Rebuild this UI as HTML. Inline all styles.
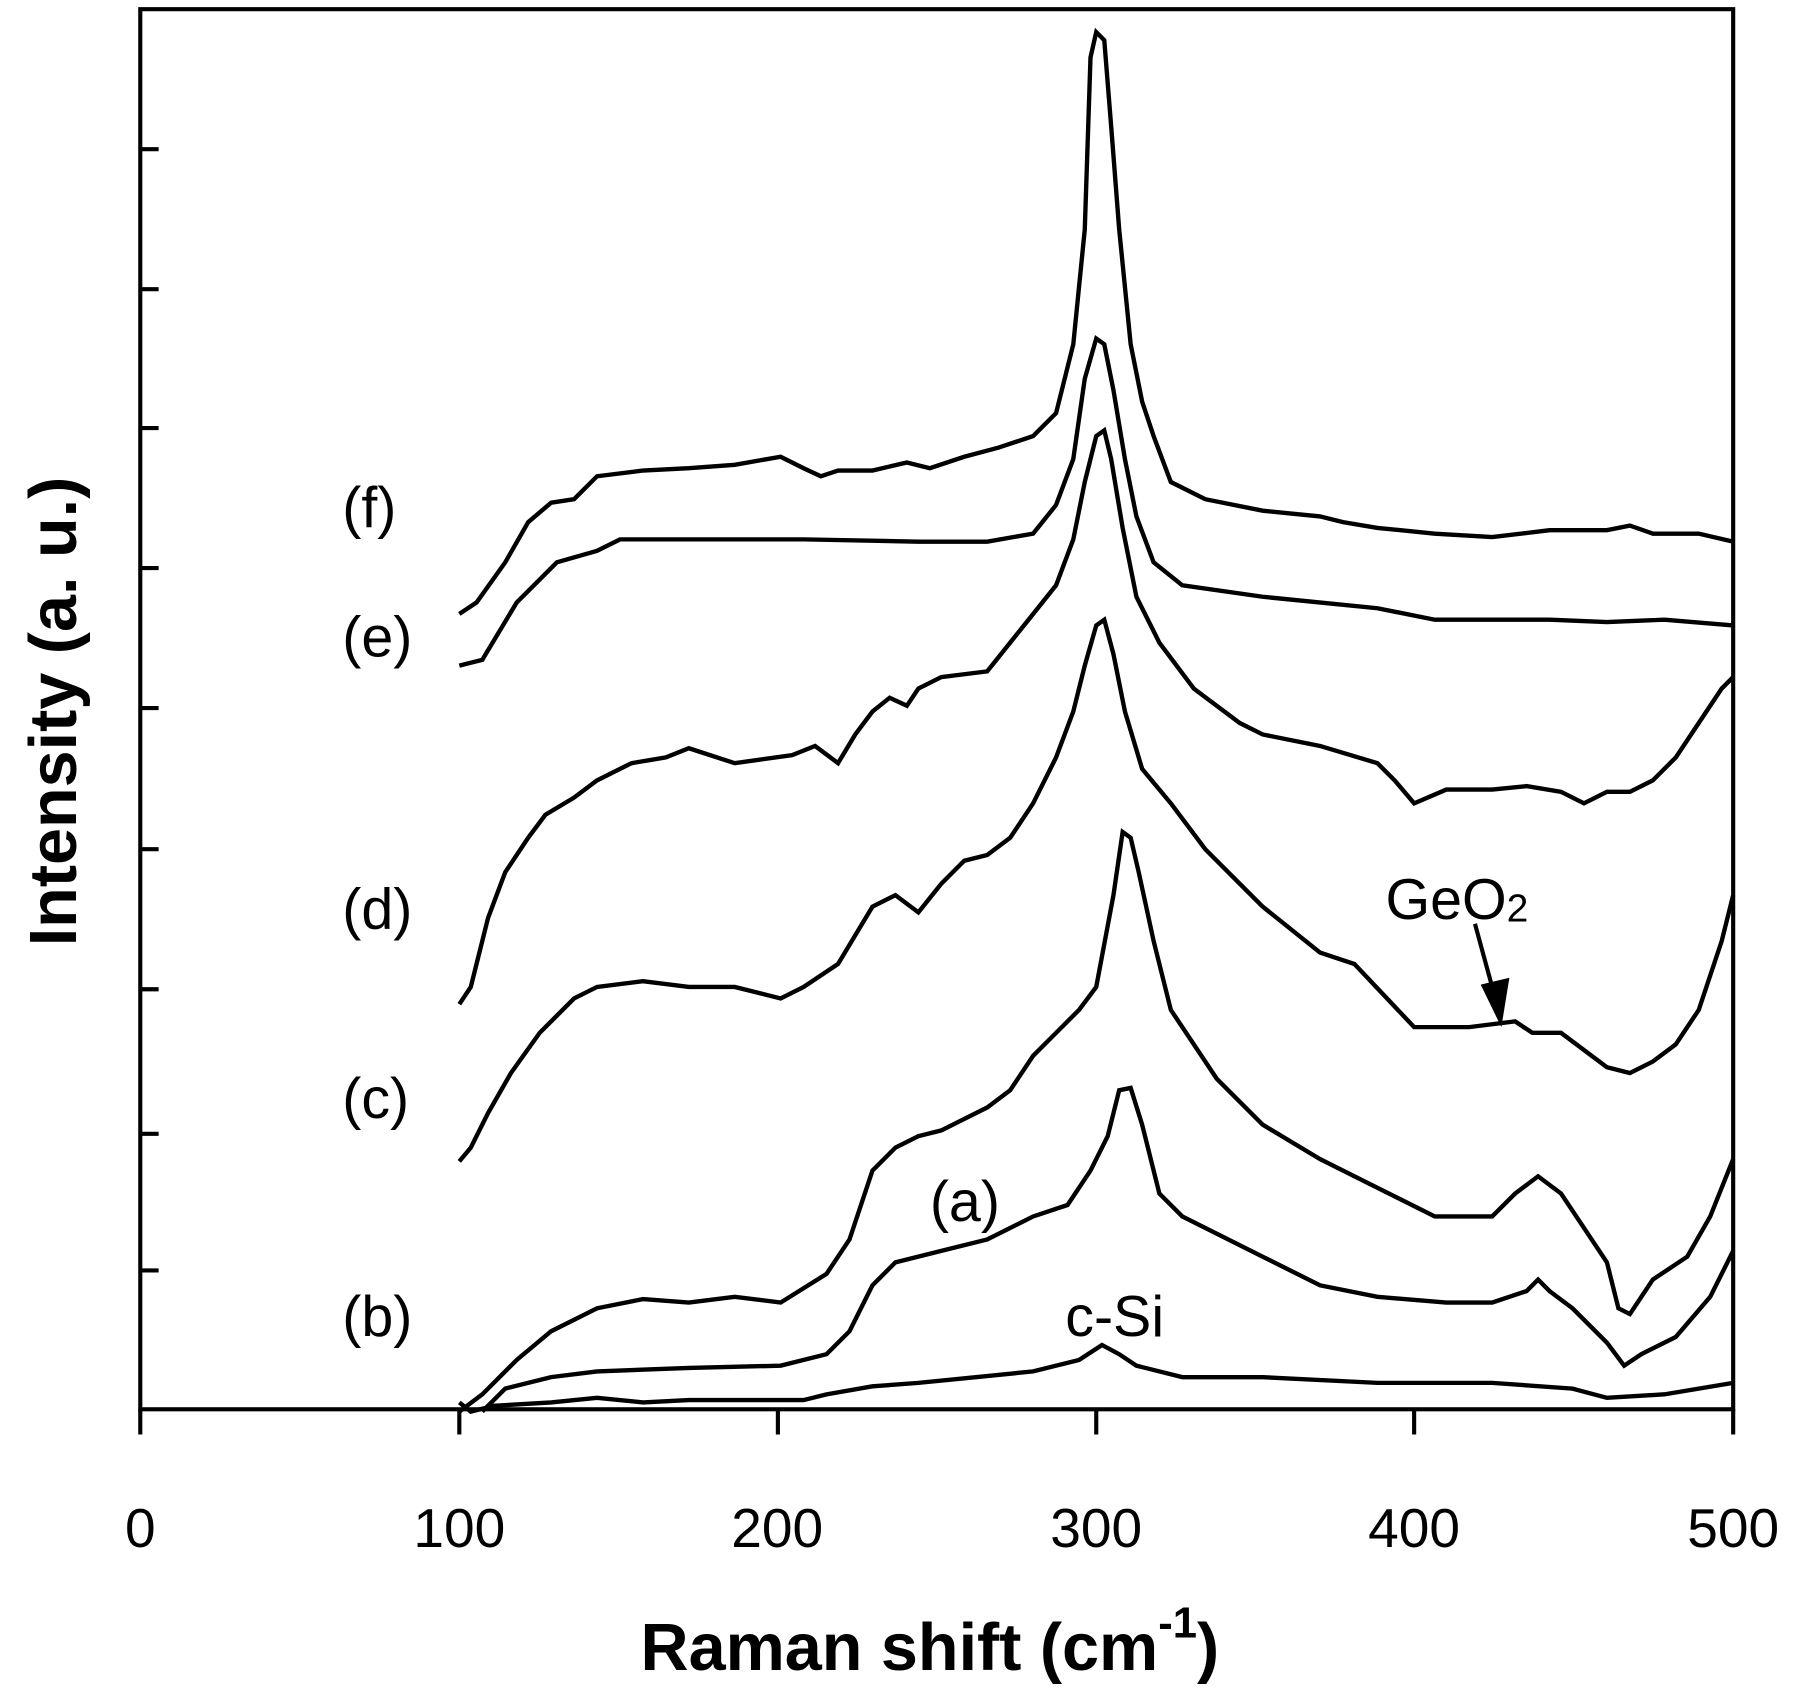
<!DOCTYPE html>
<html><head><style>html,body{margin:0;padding:0;background:#fff}svg{display:block}</style></head>
<body>
<svg width="1800" height="1687" viewBox="0 0 1568 1470" xmlns="http://www.w3.org/2000/svg">
<g fill="none" stroke="#000" stroke-width="3.6" stroke-linejoin="miter">
<rect x="122" y="8" width="1388" height="1220"/>
<path d="M122 130h16M122 252h16M122 373h16M122 495h16M122 617h16M122 740h16M122 862h16M122 988h16M122 1107h16"/>
<path d="M122 1228v22M400 1228v22M677.6 1228v22M955 1228v22M1232 1228v22M1510 1228v22"/>
<line x1="1285" y1="805" x2="1300" y2="860"/>
</g>
<g id="curves" fill="none" stroke="#000" stroke-width="3.8" stroke-linejoin="miter">
<polyline points="400,535 415,525 440,490 460,455 480,438 500,435 520,415 560,410 600,408 640,405 680,398 700,408 715,415 730,410 760,410 790,403 810,408 840,398 870,390 900,380 920,360 935,300 945,200 950,50 955,28 962,35 968,110 975,200 985,300 995,350 1005,380 1020,420 1050,435 1100,445 1150,450 1170,455 1200,460 1250,465 1300,468 1350,462 1400,462 1420,458 1440,465 1480,465 1510,472"/>
<polyline points="400,580 420,575 435,550 450,525 470,505 485,490 520,480 540,470 600,470 700,470 800,472 860,472 900,465 920,440 935,400 945,330 955,295 962,300 970,340 980,400 990,450 1005,490 1030,510 1100,520 1200,530 1250,540 1350,540 1400,542 1450,540 1510,545"/>
<polyline points="400,875 410,860 425,800 440,760 460,730 475,710 500,695 520,680 550,665 580,660 600,652 640,665 690,658 710,650 730,665 745,640 760,620 775,608 790,615 800,600 820,590 860,585 880,560 900,535 920,510 935,470 945,420 955,380 962,375 968,400 978,460 990,520 1010,560 1040,600 1080,630 1100,640 1150,650 1200,665 1215,680 1232,700 1260,688 1300,688 1330,685 1360,690 1380,700 1400,690 1420,690 1440,680 1460,660 1480,630 1500,600 1510,590"/>
<polyline points="400,1012 410,1000 425,970 445,935 470,900 500,870 520,860 560,855 600,860 640,860 680,870 700,860 730,840 760,790 780,780 800,795 820,770 840,750 860,745 880,730 900,700 920,660 935,620 945,580 955,545 962,540 970,570 980,620 995,670 1020,700 1050,740 1100,790 1150,830 1180,840 1232,895 1280,895 1320,890 1335,900 1360,900 1400,930 1420,935 1440,925 1460,910 1480,880 1500,820 1510,780"/>
<polyline points="400,1230 420,1215 450,1185 480,1160 520,1140 560,1132 600,1135 640,1130 680,1135 720,1110 740,1080 760,1020 780,1000 800,990 820,985 840,975 860,965 880,950 900,920 920,900 940,880 955,860 970,780 978,725 985,730 992,760 1005,820 1020,880 1040,910 1060,940 1100,980 1150,1010 1200,1035 1250,1060 1300,1060 1320,1040 1340,1025 1360,1040 1380,1070 1400,1100 1410,1140 1420,1145 1440,1115 1470,1095 1490,1060 1510,1010"/>
<polyline points="420,1230 440,1210 480,1200 520,1195 600,1192 680,1190 720,1180 740,1160 760,1120 780,1100 820,1090 860,1080 900,1060 930,1050 950,1020 965,990 975,950 985,948 995,980 1010,1040 1030,1060 1060,1075 1100,1095 1150,1120 1200,1130 1260,1135 1300,1135 1330,1125 1340,1115 1350,1125 1370,1140 1400,1170 1415,1190 1430,1180 1460,1165 1490,1130 1510,1090"/>
<polyline points="400,1222 410,1230 430,1225 480,1222 520,1218 560,1222 600,1220 700,1220 720,1215 760,1208 800,1205 850,1200 900,1195 940,1185 960,1172 975,1180 990,1190 1030,1200 1100,1200 1200,1205 1300,1205 1370,1210 1400,1218 1450,1215 1480,1210 1510,1205"/>
</g>
<polygon points="1290,858 1315,852 1308,895" fill="#000"/>
<g font-family="Liberation Sans, sans-serif" font-size="50" fill="#000">
<text x="298" y="459">(f)</text>
<text x="298" y="572">(e)</text>
<text x="298" y="809">(d)</text>
<text x="298" y="974">(c)</text>
<text x="298" y="1164">(b)</text>
<text x="810" y="1064">(a)</text>
<text x="928" y="1164">c-Si</text>
<text x="1207" y="801">GeO<tspan font-size="34" dy="2">2</tspan></text>
<g text-anchor="middle" font-size="48">
<text x="122" y="1348">0</text><text x="400" y="1348">100</text><text x="677" y="1348">200</text><text x="955" y="1348">300</text><text x="1232" y="1348">400</text><text x="1510" y="1348">500</text>
</g>
<text x="810" y="1455" text-anchor="middle" font-weight="bold" font-size="58">Raman shift (cm<tspan font-size="38" dy="-28">-1</tspan><tspan dy="28">)</tspan></text>
<text transform="translate(66,620) rotate(-90)" text-anchor="middle" font-weight="bold" font-size="58">Intensity (a. u.)</text>
</g>
<script>
(function(){
var pls=document.querySelectorAll('#curves polyline');
pls.forEach(function(pl){
 var pts=pl.getAttribute('points').trim().split(/\s+/).map(function(s){var a=s.split(',');return [+a[0],+a[1]];});
 var d='M'+pts[0][0]+' '+pts[0][1];
 var step=4;
 var cx=pts[0][0],cy=pts[0][1];
 for(var i=1;i<pts.length;i++){
  var x0=pts[i-1][0],y0=pts[i-1][1],x1=pts[i][0],y1=pts[i][1];
  var n=Math.max(1,Math.round((x1-x0)/step));
  for(var k=1;k<=n;k++){
   var x=x0+(x1-x0)*k/n, y=Math.round((y0+(y1-y0)*k/n)/4)*4;
   d+=' H'+x.toFixed(1)+' V'+y;
  }
 }
 var p=document.createElementNS('http://www.w3.org/2000/svg','path');
 p.setAttribute('d',d);
 pl.parentNode.replaceChild(p,pl);
});
})();
</script>
</svg>
</body></html>
